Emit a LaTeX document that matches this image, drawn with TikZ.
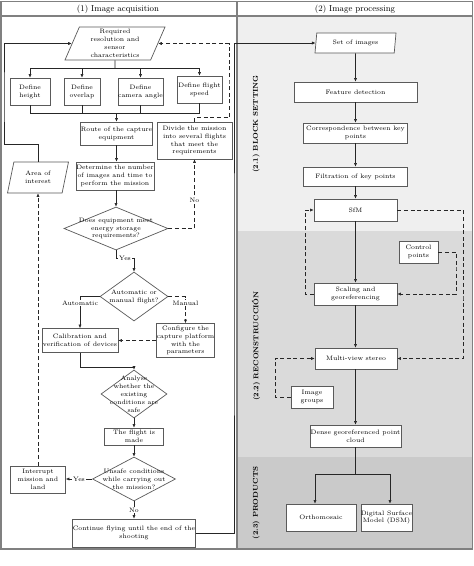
\documentclass[tikz,border=0pt]{standalone}
\usetikzlibrary{arrows.meta,shapes.geometric,calc}
\definecolor{bandA}{HTML}{EFEFEF}
\definecolor{bandB}{HTML}{DADADA}
\definecolor{bandC}{HTML}{CACACA}
\definecolor{frameC}{HTML}{808080}
\definecolor{boxC}{HTML}{5A5A5A}
\definecolor{lineC}{HTML}{262626}
\tikzset{
  every node/.style={font=\fontsize{6.4}{7.9}\selectfont},
  box/.style={draw=boxC, line width=0.7pt, fill=white, inner sep=0pt, align=center},
  para/.style={trapezium, trapezium stretches body, draw=boxC, line width=0.7pt, fill=white, inner sep=0pt, align=center},
  dia/.style={diamond, draw=boxC, line width=0.7pt, fill=white, inner sep=0pt},
  dtext/.style={align=center, inner sep=0pt},
  arr/.style={draw=lineC, line width=0.6pt, -{Latex[length=3.6pt,width=3.2pt]}},
  ln/.style={draw=lineC, line width=0.6pt},
  dsh/.style={dash pattern=on 4pt off 2.6pt},
  lbl/.style={fill=white, inner sep=0.8pt},
  lblg/.style={inner sep=0.8pt},
  panelhead/.style={font=\fontsize{8.6}{10}\selectfont},
  vlab/.style={rotate=90, inner sep=0pt, font=\fontsize{7}{8}\selectfont\bfseries},
  frame/.style={draw=frameC, line width=1.3pt},
}
\begin{document}
\begin{tikzpicture}[x=1pt, y=-1pt]
\useasboundingbox (0,0) rectangle (474,566);
% ---------- panels ----------
\fill[white] (1,1.5) rectangle (472.5,549);
\fill[bandA] (237,16) rectangle (472.5,231);
\fill[bandB] (237,231) rectangle (472.5,457);
\fill[bandC] (237,457) rectangle (472.5,549);
\draw[frame] (1,1.5) rectangle (472.5,549);
\draw[frame] (1,16) -- (472.5,16);
\draw[frame] (237,1.5) -- (237,549);
\node[panelhead] (hdA) at (118,9) {(1) Image acquisition};
\node[panelhead] (hdB) at (355,9) {(2) Image processing};
\node[vlab] (v1) at (256,124) {(2.1) BLOCK SETTING};
\node[vlab] (v2) at (256,346) {(2.2) RECONSTRUCCIÓN};
\node[vlab] (v3) at (256,503) {(2.3) PRODUCTS};

% ---------- left panel nodes ----------
\node[para, trapezium left angle=63, trapezium right angle=117, minimum width=100pt, minimum height=33pt] (req) at (115,43.5) {Required\\resolution and\\sensor\\characteristics};
\node[box, minimum width=40pt, minimum height=27pt] (h1) at (30,91.5) {Define\\height};
\node[box, minimum width=36pt, minimum height=27pt] (h2) at (82,91.5) {Define\\overlap};
\node[box, minimum width=45pt, minimum height=27pt] (h3) at (140.5,91.5) {Define\\camera angle};
\node[box, minimum width=45pt, minimum height=27pt] (h4) at (199.5,89.5) {Define flight\\speed};
\node[box, minimum width=70pt, minimum height=23pt] (route) at (116.5,133.5) {Route of the capture\\equipment};
\node[box, minimum width=75pt, minimum height=37pt] (divide) at (194.5,140.5) {Divide the mission\\into several flights\\that meet the\\requirements};
\node[para, trapezium left angle=63, trapezium right angle=117, minimum width=61pt, minimum height=31pt] (area) at (38,177.5) {Area of\\interest};
\node[box, minimum width=78pt, minimum height=28pt] (det) at (115,176) {Determine the number\\of images and time to\\perform the mission};
\node[dia, minimum width=104pt, minimum height=43pt] (d1) at (116,228.5) {};
\node[dtext] (d1t) at (d1) {Does equipment meet\\energy storage\\requirements?};
\node[dia, minimum width=68pt, minimum height=49pt] (d2) at (134,296.5) {};
\node[dtext] (d2t) at (d2) {Automatic or\\manual flight?};
\node[box, minimum width=76pt, minimum height=24pt] (cal) at (80,340.5) {Calibration and\\verification of devices};
\node[box, minimum width=57pt, minimum height=34pt] (conf) at (185.5,340.5) {Configure the\\capture platform\\with the\\parameters};
\node[dia, minimum width=66pt, minimum height=48pt] (d3) at (134,394) {};
\node[dtext] (d3t) at (d3) {Analyse\\whether the\\existing\\conditions are\\safe};
\node[box, minimum width=59pt, minimum height=17pt] (flight) at (134,436.5) {The flight is\\made};
\node[dia, minimum width=83pt, minimum height=44pt] (d4) at (134,479) {};
\node[dtext] (d4t) at (d4) {Unsafe conditions\\while carrying out\\the mission?};
\node[box, minimum width=55pt, minimum height=27pt] (int) at (38,479.5) {Interrupt\\mission and\\land};
\node[box, minimum width=117pt, minimum height=28pt] (cont) at (134,533) {Continue flying until the end of the\\shooting};

% ---------- right panel nodes ----------
\node[para, trapezium left angle=73, trapezium right angle=107, minimum width=81pt, minimum height=20pt] (set) at (355.5,43) {Set of images};
\node[box, minimum width=123pt, minimum height=20pt] (feat) at (355.5,92) {Feature detection};
\node[box, minimum width=104pt, minimum height=20pt] (corr) at (355.5,133) {Correspondence between key\\points};
\node[box, minimum width=104pt, minimum height=19pt] (filt) at (355.5,176.5) {Filtration of key points};
\node[box, minimum width=83pt, minimum height=22pt] (sfm) at (355.5,210) {SfM};
\node[box, minimum width=39pt, minimum height=22pt] (ctrl) at (418.5,252) {Control\\points};
\node[box, minimum width=83pt, minimum height=22pt] (scal) at (355.5,294) {Scaling and\\georeferencing};
\node[box, minimum width=82pt, minimum height=21pt] (mvs) at (356,358.5) {Multi-view stereo};
\node[box, minimum width=42pt, minimum height=22pt] (imgg) at (312,397) {Image\\groups};
\node[box, minimum width=91pt, minimum height=22pt] (dense) at (355.5,436) {Dense georeferenced point\\cloud};
\node[box, minimum width=70pt, minimum height=27pt] (ortho) at (321,517.5) {Orthomosaic};
\node[box, minimum width=51pt, minimum height=27pt] (dsm) at (386.5,517.5) {Digital Surface\\Model (DSM)};

% ---------- helper coordinates ----------
\coordinate (busT) at (115,68);
\coordinate (busB) at (116.5,113);
\coordinate (xL) at (4,100);
\coordinate (xR) at (229,80);
\coordinate (xM) at (234,300);
\coordinate (xE) at (463,300);
\coordinate (xC) at (456,270);
\coordinate (xS) at (305,250);
\coordinate (xI) at (275,380);
\coordinate (bO) at (315,474);
\coordinate (bD) at (390,474);

% ---------- left panel connectors ----------
\draw[ln] (req.south) -- (busT);
\draw[ln] (h1.north |- busT) -- (h4.north |- busT);
\foreach \n in {h1,h2,h3,h4} \draw[arr] (\n.north |- busT) -- (\n.north);
\foreach \n in {h1,h2,h3,h4} \draw[ln] (\n.south) -- (\n.south |- busB);
\draw[ln] (h1.south |- busB) -- (h4.south |- busB);
\draw[arr] (busB) -- (route.north);
\draw[arr] (route.south) -- (route.south |- det.north);
\draw[arr] (d1.north |- det.south) -- (d1.north);
\draw[arr] (d1.south) -- ++(0,8) -| node[pos=0.25,lbl]{Yes} (d2.north);
\draw[arr,dsh] (d1.east) -| node[pos=0.7,lbl]{No} (divide.south);
\draw[arr,dsh] (divide.north) -- ++(0,-4) -| (xR) |- (req.east);
\draw[arr] (area.north) -- ++(0,-17) -| (xL) |- (req.west);
\draw[arr,dsh] (int.north) -- (int.north |- area.south);
\draw[arr] (d2.west) -| node[pos=0.6,lbl]{Automatic} (cal.north);
\draw[arr,dsh] (d2.east) -| node[pos=0.62,lbl]{Manual} (conf.north);
\draw[arr,dsh] (conf.west) -- (cal.east);
\draw[arr] (cal.south) -- ++(0,14) -| (d3.north);
\draw[arr] (d3.south) -- (flight.north);
\draw[arr] (flight.south) -- (d4.north);
\draw[arr] (d4.west) -- node[lbl]{Yes} (d4.west -| int.east);
\draw[arr] (d4.south) -- node[lbl]{No} (cont.north);
\draw[arr] (cont.east) -| (xM) |- (set.west);

% ---------- right panel connectors ----------
\draw[arr] (set.south) -- (feat.north);
\draw[arr] (feat.south) -- (corr.north);
\draw[arr] (corr.south) -- (filt.north);
\draw[arr] (filt.south) -- (sfm.north);
\draw[arr] (sfm.south) -- (sfm.south |- scal.north);
\draw[arr] (scal.south) -- (scal.south |- mvs.north);
\draw[arr] (scal.south |- mvs.south) -- (dense.north);
\draw[arr,dsh] (sfm.east) -| (xE) |- (mvs.east);
\draw[arr,dsh] (ctrl.east) -| (xC) |- (scal.east);
\draw[arr,dsh] (scal.west) -| (xS) |- (sfm.west);
\draw[arr,dsh] (imgg.west) -| (xI) |- (mvs.west);
\draw[ln] (dense.south) -- (dense.south |- bO);
\draw[ln] (bO) -- (bD);
\draw[arr] (bO) -- (bO |- ortho.north);
\draw[arr] (bD) -- (bD |- dsm.north);
\end{tikzpicture}
\end{document}
